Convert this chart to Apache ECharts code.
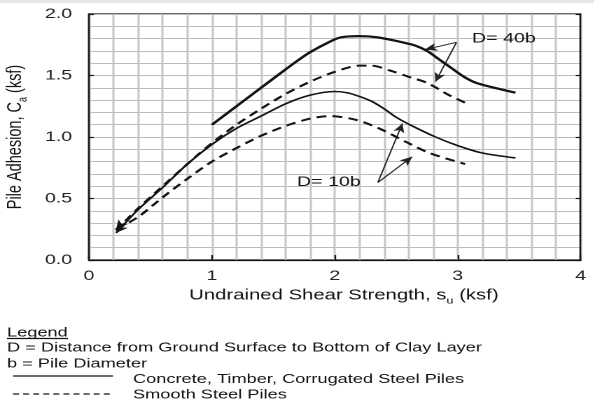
<!DOCTYPE html>
<html>
<head>
<meta charset="utf-8">
<script src="https://cdn.jsdelivr.net/npm/echarts@6/dist/echarts.min.js"></script>
<style>
html, body { margin: 0; padding: 0; background: #fff; overflow: hidden; }
#chart { height: 411px; transform-origin: 0 0; }
</style>
</head>
<body>
<div id="chart"></div>
<script>
// curves, [su (ksf), Ca (ksf)]
var solid40 = [[1.0,1.10],[1.2,1.25],[1.4,1.40],[1.6,1.55],[1.71,1.63],[1.8,1.69],[1.95,1.77],[2.05,1.81],
               [2.2,1.82],[2.35,1.81],[2.55,1.77],[2.65,1.745],[2.75,1.70],[2.85,1.63],[2.95,1.56],[3.05,1.49],
               [3.15,1.44],[3.3,1.40],[3.47,1.36]];
var dash40  = [[0.22,0.24],[0.4,0.42],[0.6,0.60],[0.8,0.78],[1.0,0.95],[1.2,1.10],[1.4,1.23],[1.6,1.35],[1.8,1.45],
               [2.0,1.53],[2.2,1.58],[2.3,1.58],[2.45,1.54],[2.6,1.49],[2.75,1.44],[2.93,1.34],[3.08,1.27]];
var solid10 = [[0.22,0.22],[0.4,0.41],[0.6,0.59],[0.8,0.78],[1.0,0.94],[1.2,1.07],[1.4,1.17],[1.6,1.27],[1.8,1.34],
               [2.0,1.37],[2.1,1.36],[2.2,1.33],[2.3,1.29],[2.4,1.23],[2.5,1.16],[2.63,1.09],[2.82,1.00],[3.0,0.93],
               [3.2,0.87],[3.47,0.83]];
var dash10  = [[0.22,0.25],[0.4,0.35],[0.6,0.51],[0.8,0.66],[1.0,0.80],[1.2,0.91],[1.4,1.01],[1.6,1.09],[1.8,1.15],
               [1.96,1.17],[2.17,1.14],[2.36,1.07],[2.58,0.96],[2.77,0.87],[3.06,0.78]];

// leader arrows from the "D= 40b" / "D= 10b" notes, [from, to]
var arrows40 = [[[2.99,1.77],[2.73,1.71]], [[2.99,1.77],[2.82,1.45]]];
var arrows10 = [[[2.35,0.63],[2.55,1.11]], [[2.35,0.63],[2.63,0.84]]];

var legendLines = [
    'D = Distance from Ground Surface to Bottom of Clay Layer',
    'b = Pile Diameter'
];
var legendItems = ['Concrete, Timber, Corrugated Steel Piles', 'Smooth Steel Piles'];

// the scanned figure is stretched sideways, so draw it narrow and stretch the whole chart
var SX = 1.4;
var el = document.getElementById('chart');
el.style.width = (594 / SX) + 'px';
el.style.transform = 'scaleX(' + SX + ')';
function px(v) { return v / SX; }

var myChart = echarts.init(el, null, { renderer: 'canvas', devicePixelRatio: 2 });

var FONT = 'Liberation Sans';
var INK = '#141414';

function toData(pts, startArrow) {
    return pts.map(function (p, i) {
        if (i === 0 && startArrow) {
            return { value: p, symbol: 'arrow', symbolSize: [6, 9], symbolRotate: 146 };
        }
        return p;
    });
}

function curve(name, pts, dashed, width, startArrow, arrows) {
    var s = {
        name: name,
        type: 'line',
        xAxisIndex: 0,
        yAxisIndex: 0,
        data: toData(pts, startArrow),
        smooth: 0.3,
        symbol: 'none',
        showSymbol: true,
        itemStyle: { color: INK },
        lineStyle: { color: INK, width: width, type: dashed ? [7, 4.5] : 'solid' },
        z: 5
    };
    if (arrows) {
        s.markLine = {
            silent: true,
            symbol: ['none', 'arrow'],
            symbolSize: [6, 9],
            label: { show: false },
            lineStyle: { color: '#222', width: 1, type: 'solid' },
            data: arrows.map(function (a) {
                return [{ coord: a[0] }, { coord: a[1] }];
            })
        };
    }
    return s;
}

function text(x, y, str, size) {
    return {
        type: 'text', x: px(x), y: y, z: 10,
        style: {
            text: str, fill: INK, fontSize: size || 13, fontFamily: FONT,
            align: 'left', verticalAlign: 'middle',
            textAlign: 'left', textVerticalAlign: 'middle'
        }
    };
}

function hline(x1, x2, y, dash) {
    return {
        type: 'line', z: 10,
        shape: { x1: px(x1), y1: y, x2: px(x2), y2: y },
        style: { stroke: INK, lineWidth: 1.2, lineDash: dash || null }
    };
}

var gridV = { color: '#c6c6c6', width: 1.5, type: 'solid' };
var gridH = { color: '#bcbcbc', width: 1, type: 'solid' };

var option = {
    animation: false,
    backgroundColor: '#fff',
    textStyle: { fontFamily: FONT },
    grid: {
        left: px(89), right: px(594 - 581), top: 14, bottom: 151,
        containLabel: false, outerBoundsMode: 'none',
        show: true, borderColor: INK, borderWidth: 1.3, backgroundColor: 'transparent'
    },
    xAxis: [{
        type: 'value', min: 0, max: 4, interval: 1, position: 'bottom',
        axisLine: { show: true, onZero: false, lineStyle: { color: INK, width: 1.3 } },
        axisTick: { show: true, inside: true, length: 5, lineStyle: { color: INK, width: 1.2 } },
        minorTick: { show: false, splitNumber: 5 },
        axisLabel: { show: true, fontSize: 14, color: '#222', margin: 9 },
        splitLine: { show: true, lineStyle: gridV },
        minorSplitLine: { show: true, lineStyle: gridV },
        name: '{a|Undrained Shear Strength, s}{s|u}{a| (ksf)}',
        nameLocation: 'middle',
        nameGap: 18,
        nameTextStyle: {
            padding: [0, 0, 0, 13],
            rich: {
                a: { fontSize: 14.5, color: INK, fontFamily: FONT, lineHeight: 20 },
                s: { fontSize: 9, color: INK, fontFamily: FONT, lineHeight: 9, verticalAlign: 'bottom' }
            }
        }
    }],
    yAxis: [{
        type: 'value', min: 0, max: 2, interval: 0.5, position: 'left',
        axisLine: { show: true, onZero: false, lineStyle: { color: INK, width: 1.3 } },
        axisTick: { show: true, inside: true, length: 3.5, lineStyle: { color: INK, width: 1.2 } },
        minorTick: { show: false, splitNumber: 5 },
        axisLabel: { show: true, fontSize: 14, color: '#222', margin: 12, formatter: function (v) { return v.toFixed(1); } },
        splitLine: { show: true, lineStyle: gridH },
        minorSplitLine: { show: true, lineStyle: gridH },
        name: '{a|Pile Adhesion, C}{s|a}{a| (ksf)}',
        nameLocation: 'middle',
        nameRotate: 90,
        nameGap: 32,
        nameTextStyle: {
            rich: {
                a: { fontSize: 14.5, color: INK, fontFamily: FONT, lineHeight: 20 },
                s: { fontSize: 9, color: INK, fontFamily: FONT, lineHeight: 9, verticalAlign: 'bottom' }
            }
        }
    }, {
        type: 'value', min: 0, max: 2, interval: 0.5, position: 'right',
        axisLine: { show: true, onZero: false, lineStyle: { color: INK, width: 1.3 } },
        axisTick: { show: true, inside: true, length: 3.5, lineStyle: { color: INK, width: 1.2 } },
        axisLabel: { show: false }, splitLine: { show: false }
    }],
    series: [
        curve('D=40b concrete', solid40, false, 2.2, false, arrows40),
        curve('D=40b smooth', dash40, true, 2, false, null),
        curve('D=10b concrete', solid10, false, 1.6, true, arrows10),
        curve('D=10b smooth', dash10, true, 2, true, null),
        // empty series so the right-hand axis is drawn
        { type: 'line', yAxisIndex: 1, data: [], silent: true }
    ],
    graphic: [
        { type: 'rect', shape: { x: 0, y: 0, width: px(594), height: 3 }, style: { fill: '#e6e6e6' } },
        text(472, 38.5, 'D= 40b', 14),
        text(297, 182, 'D= 10b', 14),
        text(7, 333, 'Legend'),
        hline(7, 68, 338.5),
        text(7, 348, legendLines[0]),
        text(7, 364, legendLines[1]),
        hline(13, 113, 376),
        text(133, 379.5, legendItems[0]),
        hline(13, 110, 394, [4.3, 2.9]),
        text(133, 395, legendItems[1])
    ]
};

myChart.setOption(option);
</script>
</body>
</html>
